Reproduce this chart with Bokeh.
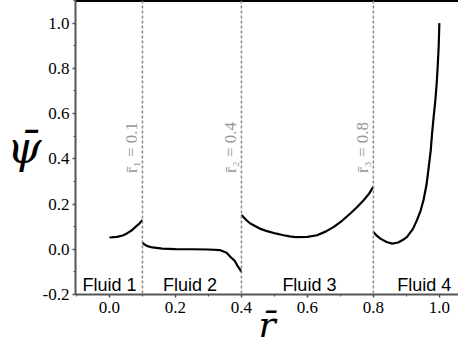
import numpy as np
from bokeh.plotting import figure
from bokeh.models import LinearAxis, FixedTicker, SingleIntervalTicker, Span, ColumnDataSource, PrintfTickFormatter
from bokeh.core.properties import value
from bokeh.embed import file_html
from bokeh.resources import INLINE

# ---- data ----
fluid1_x = [0.0, 0.023, 0.04, 0.053, 0.067, 0.079, 0.09, 0.1]
fluid1_y = [0.052, 0.055, 0.061, 0.070, 0.083, 0.099, 0.113, 0.129]

fluid2_x = [0.1, 0.105, 0.115, 0.13, 0.16, 0.2, 0.25, 0.3, 0.336, 0.355, 0.367, 0.38, 0.387, 0.395, 0.4]
fluid2_y = [0.030, 0.022, 0.014, 0.008, 0.003, 0.001, 0.0, -0.001, -0.004, -0.015, -0.034, -0.052, -0.071, -0.088, -0.100]

fluid3_x = [0.4, 0.417, 0.427, 0.458, 0.478, 0.503, 0.528, 0.546, 0.564, 0.6, 0.629, 0.655, 0.68, 0.705, 0.73, 0.751, 0.771, 0.787, 0.8]
fluid3_y = [0.152, 0.126, 0.114, 0.090, 0.080, 0.070, 0.062, 0.057, 0.054, 0.055, 0.062, 0.078, 0.099, 0.126, 0.158, 0.187, 0.218, 0.246, 0.277]

fluid4_x = [0.8, 0.81, 0.821, 0.84, 0.857, 0.875, 0.89, 0.902, 0.92, 0.932, 0.943, 0.952, 0.961, 0.968, 0.974, 0.978, 0.983, 0.988, 0.992, 0.995, 0.998, 1.0]
fluid4_y = [0.077, 0.060, 0.047, 0.032, 0.025, 0.030, 0.042, 0.055, 0.090, 0.129, 0.170, 0.218, 0.285, 0.366, 0.440, 0.514, 0.590, 0.662, 0.735, 0.810, 0.900, 1.0]

interfaces = [0.1, 0.4, 0.8]
interface_labels = ["r\u0304\u2081 = 0.1", "r\u0304\u2082 = 0.4", "r\u0304\u2083 = 0.8"]

fluid_names = ["Fluid 1", "Fluid 2", "Fluid 3", "Fluid 4"]
fluid_label_x = [0.0, 0.244, 0.606, 0.954]

SERIF = "Liberation Serif"
MATH = "DejaVu Serif"
SANS = "Liberation Sans"

p = figure(width=458, height=348, x_range=(-0.103, 1.058), y_range=(-0.2, 1.1),
           output_backend="svg", toolbar_location=None,
           min_border_left=75, min_border_right=0, min_border_top=0, min_border_bottom=54)
p.outline_line_color = None
p.xgrid.visible = False
p.ygrid.visible = False
p.background_fill_color = "white"

for ax in (p.xaxis[0], p.yaxis[0]):
    ax.ticker = SingleIntervalTicker(interval=0.2, num_minor_ticks=2)
    ax.formatter = PrintfTickFormatter(format="%.1f")
    ax.axis_line_color = "#555555"
    ax.axis_line_width = 2
    ax.major_tick_line_color = "#555555"
    ax.minor_tick_line_color = "#555555"
    ax.major_tick_line_width = 1.5
    ax.minor_tick_line_width = 1
    ax.major_tick_out = 3
    ax.major_tick_in = 0
    ax.minor_tick_out = 2
    ax.minor_tick_in = 0
    ax.major_label_text_font = SERIF
    ax.major_label_text_font_size = "17px"
    ax.major_label_text_color = "black"
    ax.axis_label_text_font = MATH
    ax.axis_label_text_font_style = "italic"
    ax.axis_label_text_color = "black"

p.yaxis[0].axis_label = "\u03c8\u0304"
p.yaxis[0].axis_label_text_font_size = "44px"
p.yaxis[0].axis_label_orientation = "horizontal"
p.yaxis[0].axis_label_standoff = -2
p.yaxis[0].major_label_standoff = 3

p.xaxis[0].axis_label = "r\u0304"
p.xaxis[0].axis_label_text_font_size = "36px"
p.xaxis[0].axis_label_standoff = -12
p.xaxis[0].major_label_standoff = 4

top = LinearAxis(ticker=FixedTicker(ticks=[]), axis_line_color="black", axis_line_width=3,
                 major_tick_out=0, major_tick_in=0, minor_tick_out=0, minor_tick_in=0,
                 major_label_text_font_size="0px")
p.add_layout(top, "above")

for xi in interfaces:
    p.add_layout(Span(location=xi, dimension="height", line_color="#888888",
                      line_width=1.5, line_dash="3 2"))

for xs, ys in [(fluid1_x, fluid1_y), (fluid2_x, fluid2_y), (fluid3_x, fluid3_y), (fluid4_x, fluid4_y)]:
    p.line(xs, ys, line_color="black", line_width=2.2)

lab_src = ColumnDataSource(dict(x=[xi - 0.033 for xi in interfaces], y=[0.45] * 3, t=interface_labels))
p.text(x="x", y="y", text="t", source=lab_src, angle=np.pi / 2, text_align="center",
       text_baseline="middle", text_font=value(SERIF), text_font_size="17px", text_color="#999999")

fl_src = ColumnDataSource(dict(x=fluid_label_x, y=[-0.157] * 4, t=fluid_names))
p.text(x="x", y="y", text="t", source=fl_src, text_align="center", text_baseline="alphabetic",
       text_font=value(SANS), text_font_size="18px", text_color="black")

open("out.html", "w").write(file_html(p, INLINE))
